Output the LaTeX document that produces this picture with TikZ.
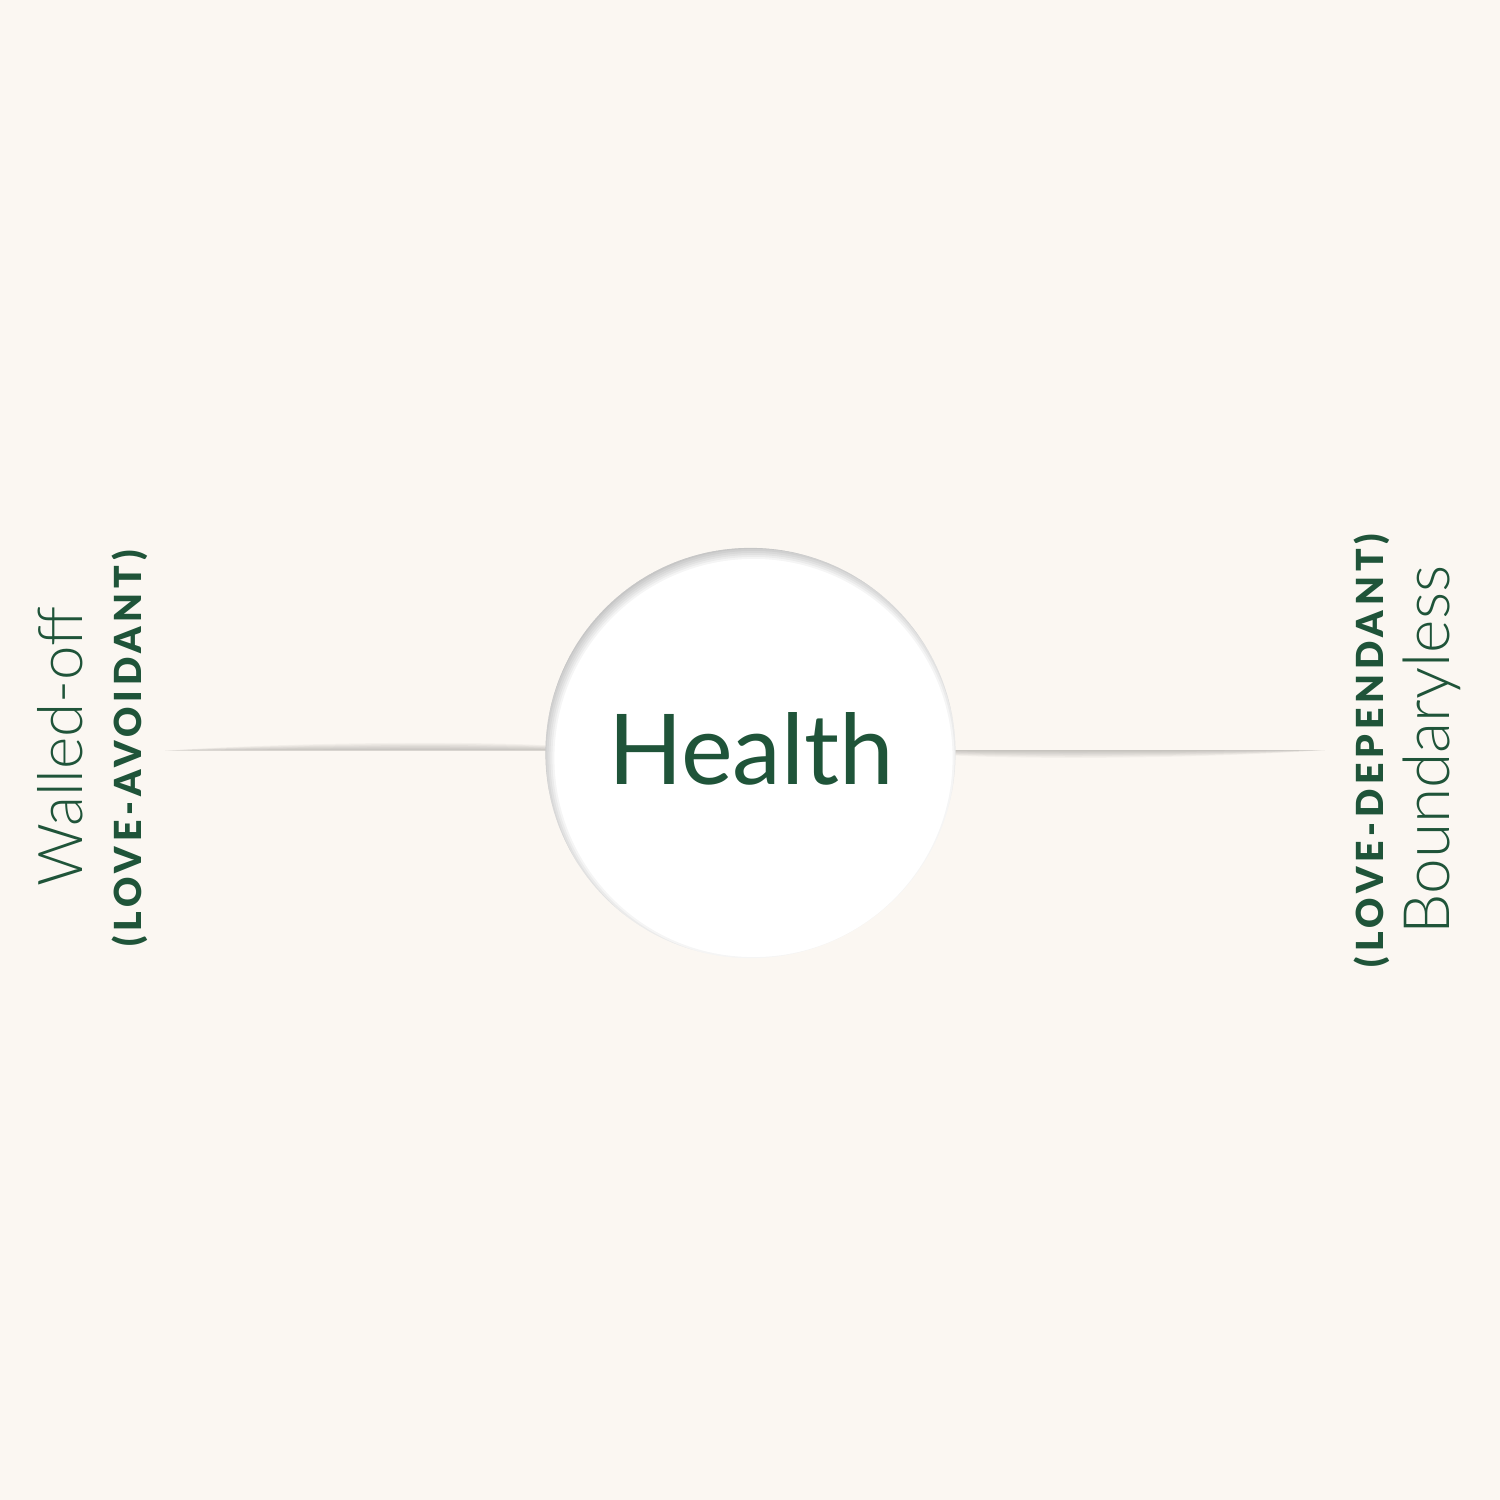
\documentclass[tikz,border=0pt]{standalone}
\usepackage{fontspec}
\setmainfont{Lato}
\newfontfamily\thinfont{Lato Light}
\newfontfamily\capsfont[LetterSpace=13]{Lato Black}
\definecolor{bgcol}{RGB}{251,247,242}
\definecolor{txtgreen}{RGB}{31,84,57}
\tikzset{
  lbl/.style={inner sep=0pt, text=txtgreen},
  thinlbl/.style={lbl, rotate=90, anchor=base},
  capslbl/.style={lbl, font=\capsfont\fontsize{10.6}{12}\selectfont, rotate=90, anchor=base},
  groove/.style={black, opacity=0.032},
}
\begin{document}
\begin{tikzpicture}[x=0.01cm,y=-0.01cm]
\useasboundingbox (0,0) rectangle (1500,1500);
\fill[bgcol] (0,0) rectangle (1500,1500);
% grooves
\foreach \h in {1,...,7}{
  \fill[groove] (165,750.7) .. controls (320,{750.7-\h*1.5}) and (560,{750.7-\h*1.5}) .. (600,750.7) -- cycle;
  \fill[groove] (1325,750) .. controls (1180,{750+\h*1.5}) and (940,{750+\h*1.5}) .. (900,750) -- cycle;
}
% circle
\coordinate (c) at (750.5,753);
\coordinate (cs) at (753.5,758);
\node[circle, fill=white, minimum size=4.1cm, inner sep=0pt] (disc) at (c) {};
\begin{scope}
  \clip (c) circle[radius=2.05cm];
  \foreach \r in {-6,-4,-2,0,2,4,6}{
    \fill[black, opacity=0.04, even odd rule] (c) circle[radius=2.4cm] (cs) circle[radius={2.05cm+\r*0.01cm}];
  }
\end{scope}
\node[lbl, font=\fontsize{27.8}{30}\selectfont, anchor=base] (health) at (751,784) {Health};
% labels
\node[thinlbl, font=\thinfont\fontsize{17.6}{20}\selectfont] (walled) at (82,746.5) {Walled-off};
\node[capslbl] (avoid) at (141.7,748.5) {(LOVE-AVOIDANT)};
\node[capslbl] (depend) at (1383.3,750.5) {(LOVE-DEPENDANT)};
\node[thinlbl, font=\thinfont\fontsize{18.2}{20}\selectfont] (bound) at (1449,750) {Boundaryless};
\end{tikzpicture}
\end{document}
